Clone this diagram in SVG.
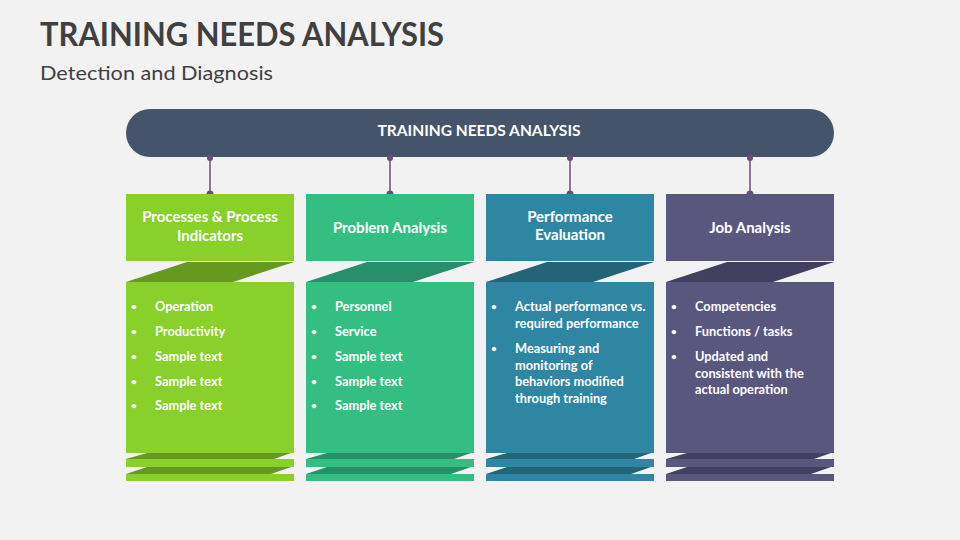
<svg xmlns="http://www.w3.org/2000/svg" width="960" height="540" viewBox="0 0 960 540">
<style>
.title{font-family:Lato,"Liberation Sans",sans-serif;font-weight:700;fill:#404040}
.sub{font-family:Lato,"Liberation Sans",sans-serif;fill:#404040}
.hd{font-family:Lato,"Liberation Sans",sans-serif;font-weight:700;font-size:15px;fill:#fff;text-anchor:middle}
.bt{font-family:Lato,"Liberation Sans",sans-serif;font-weight:700;font-size:12.8px;fill:#fff}
.bt .b{font-size:10px}
.conn line{stroke:#6B4C7C;stroke-width:1.5}
.conn circle{fill:#6B4C7C}
</style>
<rect width="960" height="540" fill="#F2F2F2"/>
<text class="title" x="40" y="46" font-size="32" textLength="404" lengthAdjust="spacingAndGlyphs">TRAINING NEEDS ANALYSIS</text>
<text class="sub" x="40" y="80" font-size="20" textLength="233" lengthAdjust="spacingAndGlyphs">Detection and Diagnosis</text>

<g id="root">
<rect x="126" y="109" width="708" height="48" rx="24" fill="#44546A"/>
<text class="hd" x="479" y="136" textLength="203" lengthAdjust="spacingAndGlyphs">TRAINING NEEDS ANALYSIS</text>
</g>

<g class="conn" id="connectors">
<line x1="210" y1="157" x2="210" y2="194"/><circle cx="210" cy="158" r="3"/><circle cx="210" cy="194" r="3.5"/>
<line x1="390" y1="157" x2="390" y2="194"/><circle cx="390" cy="158" r="3"/><circle cx="390" cy="194" r="3.5"/>
<line x1="570" y1="157" x2="570" y2="194"/><circle cx="570" cy="158" r="3"/><circle cx="570" cy="194" r="3.5"/>
<line x1="750" y1="157" x2="750" y2="194"/><circle cx="750" cy="158" r="3"/><circle cx="750" cy="194" r="3.5"/>
</g>

<defs>
<g id="shape">
<rect x="0" y="0" width="168" height="67"/>
<rect x="0" y="88" width="168" height="171"/>
<rect x="0" y="265" width="168" height="8"/>
<rect x="0" y="280" width="168" height="7"/>
</g>
</defs>

<g id="col1">
<use href="#shape" x="126" y="194" fill="#89D02A"/>
<polygon points="187,262 294,262 233,282 126,282" fill="#66991F"/>
<polygon points="147,453 291,453 274,459 126,459" fill="#66991F"/>
<polygon points="147,467 291,467 271,474 126,474" fill="#66991F"/>
<text class="hd" x="210" y="222">Processes &amp; Process</text>
<text class="hd" x="210" y="241">Indicators</text>
<g class="bt">
<text class="b" x="131" y="310">•</text><text x="155" y="311">Operation</text>
<text class="b" x="131" y="335">•</text><text x="155" y="336">Productivity</text>
<text class="b" x="131" y="360">•</text><text x="155" y="361">Sample text</text>
<text class="b" x="131" y="385">•</text><text x="155" y="386">Sample text</text>
<text class="b" x="131" y="409">•</text><text x="155" y="410">Sample text</text>
</g>
</g>

<g id="col2">
<use href="#shape" x="306" y="194" fill="#34BF82"/>
<polygon points="367,262 474,262 413,282 306,282" fill="#27906A"/>
<polygon points="327,453 471,453 454,459 306,459" fill="#27906A"/>
<polygon points="327,467 471,467 451,474 306,474" fill="#27906A"/>
<text class="hd" x="390" y="233">Problem Analysis</text>
<g class="bt">
<text class="b" x="311" y="310">•</text><text x="335" y="311">Personnel</text>
<text class="b" x="311" y="335">•</text><text x="335" y="336">Service</text>
<text class="b" x="311" y="360">•</text><text x="335" y="361">Sample text</text>
<text class="b" x="311" y="385">•</text><text x="335" y="386">Sample text</text>
<text class="b" x="311" y="409">•</text><text x="335" y="410">Sample text</text>
</g>
</g>

<g id="col3">
<use href="#shape" x="486" y="194" fill="#2F86A2"/>
<polygon points="547,262 654,262 593,282 486,282" fill="#236479"/>
<polygon points="507,453 651,453 634,459 486,459" fill="#236479"/>
<polygon points="507,467 651,467 631,474 486,474" fill="#236479"/>
<text class="hd" x="570" y="222">Performance</text>
<text class="hd" x="570" y="240">Evaluation</text>
<g class="bt">
<text class="b" x="491" y="310">•</text><text x="515" y="311">Actual performance vs.</text>
<text x="515" y="328">required performance</text>
<text class="b" x="491" y="352">•</text><text x="515" y="353">Measuring and</text>
<text x="515" y="370">monitoring of</text>
<text x="515" y="386">behaviors modified</text>
<text x="515" y="403">through training</text>
</g>
</g>

<g id="col4">
<use href="#shape" x="666" y="194" fill="#5A577F"/>
<polygon points="727,262 834,262 773,282 666,282" fill="#433F61"/>
<polygon points="687,453 831,453 814,459 666,459" fill="#433F61"/>
<polygon points="687,467 831,467 811,474 666,474" fill="#433F61"/>
<text class="hd" x="750" y="233">Job Analysis</text>
<g class="bt">
<text class="b" x="671" y="310">•</text><text x="695" y="311">Competencies</text>
<text class="b" x="671" y="335">•</text><text x="695" y="336">Functions / tasks</text>
<text class="b" x="671" y="360">•</text><text x="695" y="361">Updated and</text>
<text x="695" y="378">consistent with the</text>
<text x="695" y="394">actual operation</text>
</g>
</g>
</svg>
